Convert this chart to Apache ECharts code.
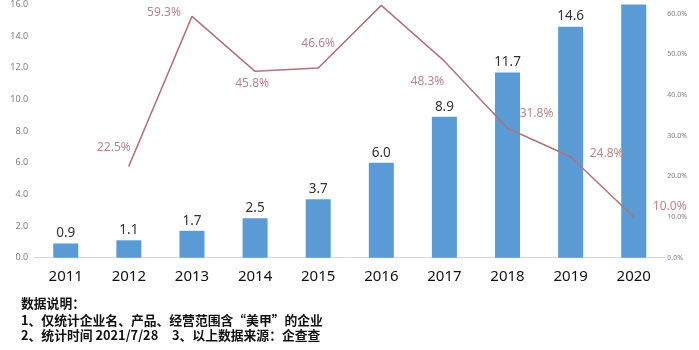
<!DOCTYPE html>
<html>
<head>
<meta charset="utf-8">
<script src="https://cdn.jsdelivr.net/npm/echarts@6/dist/echarts.min.js"></script>
<style>
  html, body { margin: 0; padding: 0; background: #ffffff; }
  #chart { width: 699px; height: 350px; }
</style>
</head>
<body>
<div id="chart"></div>
<script>
// Yearly count of businesses (bars, left axis) and year-on-year growth (line, right axis)
const years = ['2011', '2012', '2013', '2014', '2015', '2016', '2017', '2018', '2019', '2020'];
const companyCounts = [0.9, 1.1, 1.7, 2.5, 3.7, 6.0, 8.9, 11.7, 14.6, 16.1];
const growthRates = [null, 22.5, 59.3, 45.8, 46.6, 62.0, 48.3, 31.8, 24.8, 10.0];

// The plot shows the lower part of a 0–18 / 0–70% frame: up to 16 on the left scale
const countAxisTicks = { min: 0, max: 16, interval: 2 };
const growthAxisTicks = { min: 0, max: 70 * 16 / 18, interval: 10 };

const noteTitle = '数据说明：';
const noteLine1 = '1、仅统计企业名、产品、经营范围含“美甲”的企业';
const noteLine2a = '2、统计时间 2021/7/28';
const noteLine2b = '3、以上数据来源：企查查';

// Where each growth label sits relative to its point (pixels)
const growthLabelOffsets = [
  [0, 0], [-15, -19], [-28, -4], [-3, 12], [0, -24],
  [0, -24], [-17, 20], [29, -15], [36, -3], [36, -10]
];

const numFont = '"Noto Sans", sans-serif';
const cjkFont = '"Noto Sans CJK SC", sans-serif';

const chart = echarts.init(document.getElementById('chart'), null, { renderer: 'canvas' });

const growthData = growthRates.map((v, i) => (
  v === null ? '-' : { value: v, label: { offset: growthLabelOffsets[i] } }
));

const noteStyle = { fill: '#111111', font: 'bold 12.8px ' + cjkFont };

chart.setOption({
  animation: false,
  backgroundColor: '#ffffff',
  grid: { left: 34.2, right: 33.7, top: 1.5, bottom: 92.3, containLabel: false },
  xAxis: {
    type: 'category',
    data: years,
    axisLine: { lineStyle: { color: '#d9d9d9', width: 1 } },
    axisTick: { show: false },
    axisLabel: { color: '#111111', fontSize: 15, fontFamily: numFont, margin: 12 }
  },
  yAxis: [
    {
      type: 'value',
      min: countAxisTicks.min, max: countAxisTicks.max, interval: countAxisTicks.interval,
      splitLine: { show: false },
      axisLine: { show: false },
      axisTick: { show: false },
      axisLabel: {
        color: '#808080', fontSize: 9, fontFamily: numFont, margin: 6,
        formatter: v => v.toFixed(1)
      }
    },
    {
      type: 'value',
      min: growthAxisTicks.min, max: growthAxisTicks.max, interval: growthAxisTicks.interval,
      splitLine: { show: false },
      axisLine: { show: false },
      axisTick: { show: false },
      axisLabel: {
        color: '#808080', fontSize: 7, fontFamily: numFont, margin: 2,
        showMaxLabel: false,
        formatter: v => (v % 10 === 0 ? v.toFixed(1) + '%' : '')
      }
    }
  ],
  series: [
    {
      type: 'bar',
      yAxisIndex: 0,
      data: companyCounts,
      barWidth: 25,
      clip: true,
      itemStyle: { color: '#5b9bd5' },
      label: {
        show: true, position: 'top', distance: 3,
        color: '#333333', fontSize: 13.5, fontFamily: numFont,
        formatter: p => p.value.toFixed(1)
      },
      z: 2
    },
    {
      type: 'line',
      yAxisIndex: 1,
      data: growthData,
      symbol: 'circle',
      symbolSize: 1,
      itemStyle: { color: '#ad7479' },
      lineStyle: { color: '#ad7479', width: 1.5 },
      label: {
        show: true, position: 'inside',
        color: '#b9878d', fontSize: 12, fontFamily: numFont,
        formatter: p => p.value.toFixed(1) + '%'
      },
      z: 3
    }
  ],
  graphic: [
    { type: 'text', left: 21, top: 297, style: Object.assign({ text: noteTitle }, noteStyle) },
    { type: 'text', left: 21, top: 313.5, style: Object.assign({ text: noteLine1 }, noteStyle) },
    { type: 'text', left: 21, top: 328.5, style: Object.assign({ text: noteLine2a }, noteStyle) },
    { type: 'text', left: 172, top: 328.5, style: Object.assign({ text: noteLine2b }, noteStyle) }
  ]
});
</script>
</body>
</html>
